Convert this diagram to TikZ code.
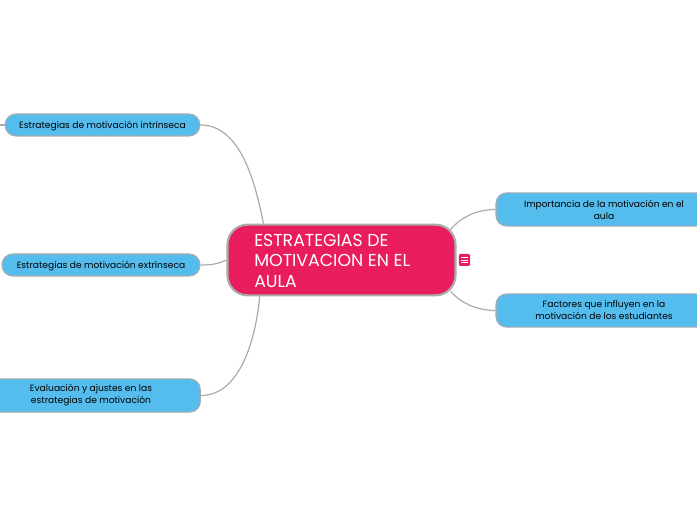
\documentclass[tikz,border=0pt]{standalone}
\usepackage{fontspec}
\setmainfont{Poppins}
\usetikzlibrary{calc}
\definecolor{rootpink}{HTML}{E91C5E}
\definecolor{topicblue}{HTML}{55BDEE}
\definecolor{linkgray}{HTML}{ABABAB}

\begin{document}
\begin{tikzpicture}[x=0.75pt, y=-0.75pt,
    root/.style={rectangle, draw=linkgray, line width=1.6pt, fill=rootpink, rounded corners=15pt, minimum width=171pt, minimum height=53pt, inner sep=0pt},
    topic/.style={rectangle, draw=linkgray, line width=0.8pt, fill=topicblue, rounded corners=8pt, inner sep=0pt, align=center, font=\fontsize{6.85pt}{9pt}\selectfont, execute at begin node=\rule{0pt}{7.8pt}},
    link/.style={draw=linkgray, line width=0.9pt}]
    \useasboundingbox (0,0) rectangle (697,520);
    \clip (0,0) rectangle (697,520);
    % Nodes
    \node[root] (root) at (341.5,260) {};
    \node[anchor=north west, text=white, align=left, inner sep=0pt, font=\fontsize{13pt}{15.4pt}\selectfont] (title) at (254,233.5) {ESTRATEGIAS DE\\MOTIVACION EN EL\\AULA};
    \node[topic, minimum width=146pt, minimum height=16.5pt] (intr) at (102.5,125) {Estrategias de motivación intrínseca};
    \node[topic, minimum width=148.5pt, minimum height=16.5pt] (extr) at (101,265) {Estrategias de motivación extrínseca};
    \node[topic, minimum width=164pt, minimum height=25pt] (eval) at (91,395.5) {Evaluación y ajustes en las\\estrategias de motivación};
    \node[topic, minimum width=162pt, minimum height=25pt] (imp) at (604,209.5) {Importancia de la motivación en el\\aula};
    \node[topic, minimum width=162pt, minimum height=25pt] (fact) at (604,310.5) {Factores que influyen en la\\motivación de los estudiantes};
    \node[rectangle, fill=rootpink, rounded corners=1.5pt, minimum width=8.5pt, minimum height=9pt, inner sep=0pt] (note) at (464.5,260) {};
    \coordinate (stub) at (0,125);

    % Arrows
    \draw[link] (stub) -- (intr);
    \draw[link] (intr.east) .. controls (238,125) and (254,175) .. (root.155.9);
    \draw[link] (extr.east) .. controls (212,265) and (218,264) .. (root.west);
    \draw[link] (eval.east) .. controls (238,395.5) and (255,345) .. (root.204.1);
    \draw[link] ($(root.north east)+(-6,6)$) .. controls (462,216) and (478,209.5) .. (imp.west);
    \draw[link] ($(root.south east)+(-6,-5)$) .. controls (462,304) and (478,310.5) .. (fact.west);
    \foreach \i in {-2.5,0,2.5}
        \draw[white, line width=0.6pt] ($(note)+(-3.5,\i)$) -- ($(note)+(3.5,\i)$);
\end{tikzpicture}
\end{document}
